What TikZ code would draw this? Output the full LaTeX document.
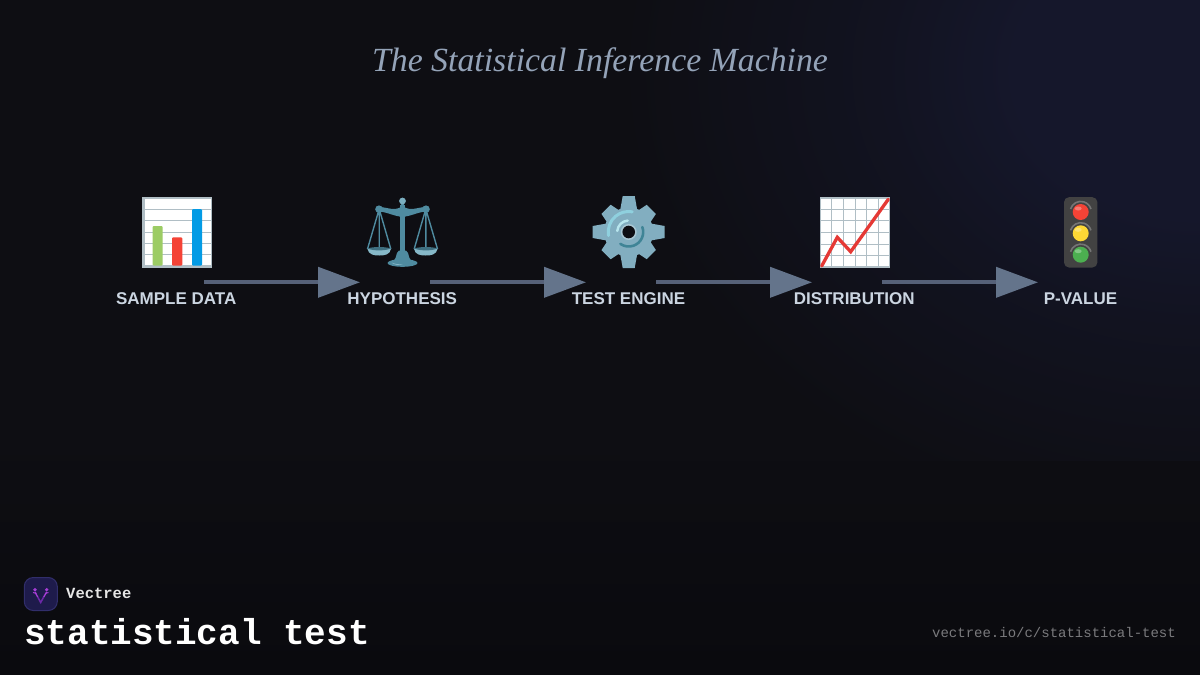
\documentclass[tikz,border=0pt]{standalone}
\usepackage{fontspec}
\setmainfont{Liberation Sans}
\newfontfamily\serifx{Liberation Serif}
\newfontfamily\monox{Liberation Mono}
\usetikzlibrary{arrows.meta,shapes.geometric}
\definecolor{bgmain}{HTML}{0E0E13}
\definecolor{bgtr}{HTML}{15172B}
\definecolor{bgbot}{HTML}{0A0A0E}
\definecolor{titlec}{HTML}{94A3B8}
\definecolor{labelc}{HTML}{CBD5E1}
\definecolor{linec}{HTML}{566178}
\definecolor{headc}{HTML}{64748B}
\definecolor{gridc}{HTML}{B0BEC5}
\definecolor{steel}{HTML}{4F8BA0}
\definecolor{steell}{HTML}{86B8C8}
\definecolor{gearc}{HTML}{82AEC0}
\definecolor{gearh}{HTML}{8FD0DE}
\definecolor{gearw}{HTML}{B8E6EE}
\definecolor{geard}{HTML}{3F8496}
\definecolor{lamp}{HTML}{424242}
\definecolor{hood}{HTML}{757575}
\definecolor{barg}{HTML}{9CCC65}
\definecolor{barr}{HTML}{F44336}
\definecolor{barb}{HTML}{039BE5}
\definecolor{redl}{HTML}{E53935}
\definecolor{yel}{HTML}{FDD835}
\definecolor{grn}{HTML}{4CAF50}
\definecolor{logof}{HTML}{1E1B4B}
\definecolor{logod}{HTML}{312E6B}
\definecolor{logov}{HTML}{A63DD6}
\definecolor{logow}{HTML}{6D28A8}
\pgfdeclareradialshading{glow}{\pgfpoint{0bp}{0bp}}{color(0bp)=(bgtr); color(8bp)=(bgtr); color(14bp)=(bgtr!55!bgmain); color(25bp)=(bgmain); color(50bp)=(bgmain)}
\pgfdeclareverticalshading{floor}{100bp}{color(0bp)=(bgbot); color(25bp)=(bgbot); color(75bp)=(bgmain); color(100bp)=(bgmain)}
\tikzset{
  flow/.style={line width=4pt,linec,-{Triangle[length=42pt,width=30pt,fill=headc,color=headc]}},
  steplabel/.style={font=\bfseries\fontsize{17}{20}\selectfont,text=labelc,inner sep=0pt,anchor=base},
  icon/.style={inner sep=0pt,minimum width=76pt,minimum height=76pt},
  grid line/.style={gridc,line width=1pt},
}
\begin{document}
\begin{tikzpicture}[x=1pt,y=-1pt]
\useasboundingbox (0,0) rectangle (1200,675);
\fill[bgmain] (0,0) rectangle (1200,675);
\fill[shading=floor] (0,430) rectangle (1200,675);
\begin{scope}
\clip (0,0) rectangle (1200,460);
\fill[shading=glow] (620,-390) rectangle (1780,530);
\end{scope}
\node[font=\serifx\itshape\fontsize{33.8}{40}\selectfont,text=titlec,inner sep=0pt,anchor=base] (title) at (600,71) {The Statistical Inference Machine};

\node[icon] (i1) at (177,232.5) {};
\node[icon] (i2) at (402.5,232) {};
\node[icon] (i3) at (628.7,232) {};
\node[icon] (i4) at (855,232.5) {};
\node[icon] (i5) at (1080.7,232.5) {};

% bar chart
\begin{scope}[shift={(i1.center)}]
\fill[white] (-35,-35) rectangle (35,35);
\foreach \y in {-23.2,-11.8,-0.5,10.8,22.2} \draw[grid line] (-35,\y) -- (35,\y);
\draw[gridc,line width=1.3pt] (-34.4,-34.6) rectangle (34.4,34.6);
\fill[gridc] (-35,-35) rectangle (-32.5,35);
\fill[gridc] (-35,32.8) rectangle (35,35);
\fill[barg,rounded corners=1pt] (-24.3,-6.5) rectangle (-14.3,33);
\fill[barr,rounded corners=1pt] (-5,4.8) rectangle (5.3,33);
\fill[barb,rounded corners=1pt] (15,-23.5) rectangle (25,33);
\end{scope}

% scales
\begin{scope}[shift={(i2.center)}]
\foreach \s in {-1,1}{
  \draw[steel,line width=1.4pt] (\s*23.3,-23) -- (\s*35,17) (\s*23.3,-23) -- (\s*11.7,17) (\s*23.3,-23) -- (\s*23.3,17);
  \fill[steell] (\s*35.2,16.5) .. controls (\s*34,23) and (\s*28,23.5) .. (\s*23.3,23.5) .. controls (\s*18,23.5) and (\s*12.5,23) .. (\s*11.4,16.5) -- cycle;
  \fill[steel!80!black] (\s*11.4,16.5) .. controls (\s*18,19) and (\s*29,19) .. (\s*35.2,16.5) .. controls (\s*29,14.5) and (\s*18,14.5) .. (\s*11.4,16.5) -- cycle;
  \fill[steel] (0,-26) .. controls (\s*8,-20) and (\s*15,-25) .. (\s*23.5,-25) -- (\s*23.5,-20.5) .. controls (\s*15,-20) and (\s*7,-15) .. (0,-15.5) -- cycle;
  \fill[steel] (\s*23.5,-22.8) circle (3.8);
}
\fill[steel] (-2.6,-27) rectangle (2.6,20);
\fill[steel] (-1.5,-30) rectangle (1.5,-24);
\fill[steell!80!steel] (0,-31) circle (3.4);
\fill[steel] (0,-19.5) ellipse (4.5 and 5.5);
\fill[steel] (0,31) ellipse (15 and 3.8);
\fill[steel] (-10,30) .. controls (-7,27) and (-6,24) .. (-5.5,21) .. controls (-5,17) and (5,17) .. (5.5,21) .. controls (6,24) and (7,27) .. (10,30) -- cycle;
\fill[steell] (-11,30.5) .. controls (-8,32) and (-3,32.5) .. (0,32.5) .. controls (-3,33.5) and (-9,33) .. (-11,30.5) -- cycle;
\end{scope}

% gear
\begin{scope}[shift={(i3.center)}]
\fill[gearc] (0,0) circle (24.5);
\foreach \a in {0,90,180,270}
  \fill[gearc,rotate=\a] (-8.5,-22) -- (-6,-36) -- (6,-36) -- (8.5,-22) -- cycle;
\foreach \a in {45,135,225,315}
  \fill[gearc,rotate=\a] (-8.5,-22) -- (-6.5,-32) -- (6.5,-32) -- (8.5,-22) -- cycle;
\draw[gearh,line width=3pt,line cap=round] (-190:20.5) arc (-190:-80:20.5);
\draw[gearw,line width=2.4pt,line cap=round] (-175:11.5) arc (-175:-95:11.5);
\draw[geard,line width=2.6pt,line cap=round] (-20:14.5) arc (-20:125:14.5);
\fill[gearc!70!white] (0,0) circle (8);
\fill[bgmain] (0,0) circle (6.3);
\end{scope}

% chart with line
\begin{scope}[shift={(i4.center)}]
\fill[white] (-35,-35) rectangle (35,35);
\foreach \k in {-23.4,-11.7,0,11.7,23.4} {\draw[grid line] (\k,-35) -- (\k,35); \draw[grid line] (-35,\k) -- (35,\k);}
\draw[gridc,line width=1.3pt] (-34.4,-34.6) rectangle (34.4,34.6);
\draw[redl,line width=3.3pt,line join=miter,line cap=round] (-33.3,33.5) -- (-17.7,4.8) -- (-4.3,19.2) -- (33.3,-33.2);
\end{scope}

% traffic light
\begin{scope}[shift={(i5.center)}]
\fill[lamp,rounded corners=5pt] (-16.7,-35.3) rectangle (16.7,35);
\foreach \y/\c in {-20.5/barr,0.8/yel,22.2/grn}{
  \draw[hood,line width=1.6pt] (-10.2,\y-3) arc (197:343:10.7);
  \fill[\c] (0,\y) circle (8);
  \fill[white,opacity=.3] (-2.5,\y-3.5) ellipse (3.5 and 2);
}
\end{scope}

\foreach \a/\b [count=\i] in {204/360,430/586,656/812,882/1038}{
  \coordinate (s\i) at (\a,282.3);
  \coordinate (e\i) at (\b,282.3);
  \draw[flow] (s\i) -- (e\i);
}

\node[steplabel] (l1) at (176.2,304.5) {SAMPLE DATA};
\node[steplabel] (l2) at (402.2,304.5) {HYPOTHESIS};
\node[steplabel] (l3) at (628.5,304.5) {TEST ENGINE};
\node[steplabel] (l4) at (854.2,304.5) {DISTRIBUTION};
\node[steplabel] (l5) at (1080.5,304.5) {P-VALUE};

% logo
\node[draw=logod,fill=logof,rounded corners=9pt,minimum width=33pt,minimum height=33pt,inner sep=0pt,line width=1pt] (logo) at (40.8,594) {};
\draw[logov,line width=1.3pt] (35,592) -- (37.7,597);
\draw[logov,line width=1.3pt] (46.7,592) -- (43.7,597);
\draw[logow,line width=1.5pt] (37.7,597) -- (40.7,602.5) -- (43.7,597);
\fill[logov] (35,589.7) circle (1.8) (46.7,589.7) circle (1.8);
\draw[logov,line width=1pt] (33,592.5) -- (36.5,593.5) (48.5,592.5) -- (45,593.5);
\node[anchor=base west,inner sep=0pt,font=\monox\bfseries\fontsize{15.5}{18}\selectfont,text=white!90!black] (brand) at (66,598.3) {Vectree};
\node[anchor=base west,inner sep=0pt,font=\monox\bfseries\fontsize{36}{40}\selectfont,text=white] (term) at (24,644) {statistical test};
\node[anchor=base east,inner sep=0pt,font=\monox\fontsize{14}{16}\selectfont,text=white!45!bgmain] (url) at (1176,637) {vectree.io/c/statistical-test};
\end{tikzpicture}
\end{document}
